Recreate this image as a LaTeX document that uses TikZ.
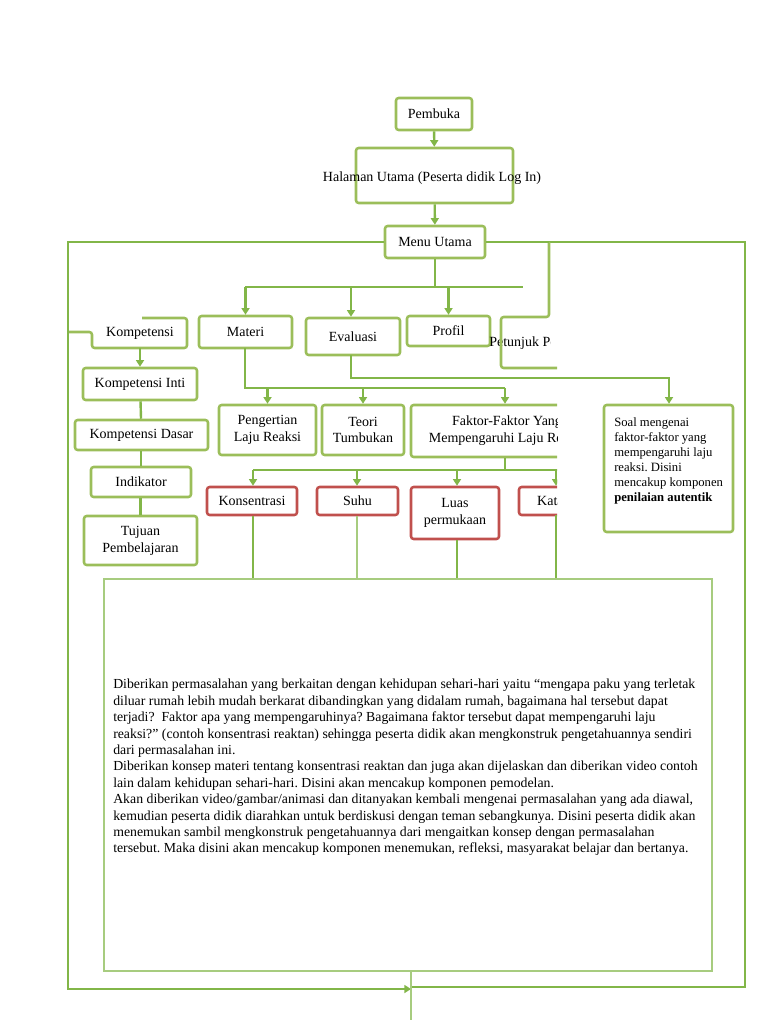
\documentclass[tikz,border=0pt]{standalone}
\usepackage{fontspec}
\setmainfont{Liberation Serif}
\usetikzlibrary{arrows.meta}
\definecolor{boxgreen}{RGB}{155,190,90}
\definecolor{linegreen}{RGB}{130,182,72}
\definecolor{boxred}{RGB}{192,80,77}
\tikzset{
  box/.style={draw=boxgreen, line width=1.9pt, rounded corners=2pt, inner sep=0pt, align=center, font=\fontsize{10.5}{12.6}\selectfont},
  redbox/.style={box, draw=boxred},
  link/.style={draw=linegreen, line width=1.8pt},
  thinlink/.style={draw=linegreen!70, line width=0.8pt},
  tip/.style={-{Triangle[length=5pt,width=6pt]}},
}
\frenchspacing
\begin{document}
\begin{tikzpicture}[x=0.75pt, y=-0.75pt]
  \useasboundingbox (0,0) rectangle (768,1024);

  % top of the chart
  \node[box, minimum width=57pt, minimum height=24pt] (pembuka) at (434,114) {Pembuka};
  \node[box, minimum width=117.75pt, minimum height=41.25pt] (halaman) at (434.5,175.5) {};
  \node[inner sep=0pt, font=\fontsize{10.5}{12.6}\selectfont] (halamantext) at (432,178) {Halaman Utama (Peserta didik Log In)};
  \node[box, minimum width=75pt, minimum height=24pt] (menu) at (435,242) {Menu Utama};
  \draw[link, tip] (pembuka) -- (halaman);
  \draw[link, tip] (halaman) -- (menu);

  % menu items
  \node[box, minimum width=69.75pt, minimum height=24pt] (materi) at (245.5,332) {Materi};
  \node[box, minimum width=70.5pt, minimum height=27.75pt] (evaluasi) at (353,336.5) {Evaluasi};
  \node[box, minimum width=62.25pt, minimum height=22.5pt] (profil) at (448.5,331) {Profil};
  \node[font=\fontsize{10.5}{12.6}\selectfont, minimum width=71.25pt, minimum height=22.5pt] (kompetensi) at (140,333) {Kompetensi};
  \draw[box] (142,318) -- (187,318) -- (187,348) -- (92,348) -- (92,332) -- (68,332);

  \coordinate (mbus) at (435,287);
  \draw[link] (menu) -- (mbus);
  \draw[link] (245,287) -- (523,287);
  \draw[link, tip] (materi.north |- mbus) -- (materi.north);
  \draw[link, tip] (351,287) -- (evaluasi.north -| 351,0);
  \draw[link, tip] (profil.north |- mbus) -- (profil.north);

  % loops round the chart
  \coordinate (bottom) at (411,989);
  \draw[link, tip] (menu.west) -- (68,242) -- (68,989) -- (bottom);
  \draw[link] (549,242) -- (745,242) -- (745,987) -- (411,987);

  % kompetensi column
  \node[box, minimum width=85.5pt, minimum height=24pt] (kinti) at (140,384) {Kompetensi Inti};
  \node[box, minimum width=99.75pt, minimum height=22.5pt] (kdasar) at (141.5,435) {Kompetensi Dasar};
  \node[box, minimum width=75pt, minimum height=22.5pt] (indikator) at (141,482) {Indikator};
  \node[box, minimum width=84.75pt, minimum height=36.75pt] (tujuan) at (140.5,540.5) {Tujuan\\Pembelajaran};
  \draw[link, tip] (kompetensi.south -| kinti.north) -- (kinti.north);
  \draw[link] (kinti) -- (kdasar);
  \draw[link] (kdasar.south -| indikator.north) -- (indikator.north);
  \draw[link] (indikator.south -| tujuan.north) -- (tujuan.north);

  % materi branch
  \node[box, minimum width=72.75pt, minimum height=37.5pt] (pengertian) at (267.5,430) {Pengertian\\Laju Reaksi};
  \node[box, minimum width=61.5pt, minimum height=37.5pt] (teori) at (363,430) {Teori\\Tumbukan};
  \draw[link] (245,348) -- (245,388) -- (505,388);
  \draw[link, tip] (pengertian.north |- 0,388) -- (pengertian.north);
  \draw[link, tip] (teori.north |- 0,388) -- (teori.north);

  % evaluasi branch
  \node[box, minimum width=96.75pt, minimum height=95.25pt] (soal) at (668.5,468.5) {};
  \node[anchor=north west, inner sep=0pt, align=left, font=\fontsize{9.5}{11.25}\selectfont] (soaltext) at (614,417)
    {Soal mengenai\\faktor-faktor yang\\mempengaruhi laju\\reaksi. Disini\\mencakup komponen\\\textbf{penilaian autentik}};
  \draw[link, tip] (351,355) -- (351,378) -- (669,378) -- (soal.north -| 669,0);

  % the part cut off at the right
  \begin{scope}
    \clip (0,0) rectangle (550,1024);
    \node[anchor=west, inner sep=0pt, font=\fontsize{10.5}{12.6}\selectfont] (petunjuk) at (489,343) {Petunjuk Penggunaan};
  \end{scope}
  \begin{scope}
    \clip (0,0) rectangle (557,1024);
    \draw[box] (549,242) -- (549,317) -- (501,317) -- (501,368) -- (560,368);
    \draw[link] (menu.east) -- (549,242);
    \node[box, minimum width=144pt, minimum height=39pt] (faktor) at (507,431) {Faktor-Faktor Yang\\Mempengaruhi Laju Reaksi};
    \draw[link, tip] (505,388) -- (faktor.north -| 505,0);
    \coordinate (fbus) at (505,470);
    \draw[link] (faktor.south -| fbus) -- (fbus);
    \draw[link] (253,470) -- (600,470);
    \node[redbox, minimum width=67.5pt, minimum height=21pt] (konsentrasi) at (252,501) {Konsentrasi};
    \node[redbox, minimum width=60.75pt, minimum height=21pt] (suhu) at (357.5,501) {Suhu};
    \node[redbox, minimum width=66pt, minimum height=39pt] (luas) at (455,513) {Luas\\permukaan};
    \node[redbox, minimum width=57pt, minimum height=21pt] (katalis) at (557,501) {Katalis};
    \foreach \n/\xx in {konsentrasi/253, suhu/357, luas/457, katalis/556}
      \draw[link, tip] (\xx,470) -- (\n.north -| \xx,0);
  \end{scope}

  % text box
  \node[draw=linegreen!70, line width=0.8pt, minimum width=456pt, minimum height=294pt] (uraian) at (408,775) {};
  \node[anchor=north west, inner sep=0pt, align=left, font=\fontsize{10.35}{12.3}\selectfont] (uraiantext) at (113,679)
    {Diberikan permasalahan yang berkaitan dengan kehidupan sehari-hari yaitu “mengapa paku yang terletak\\
     diluar rumah lebih mudah berkarat dibandingkan yang didalam rumah, bagaimana hal tersebut dapat\\
     terjadi?\ \ Faktor apa yang mempengaruhinya? Bagaimana faktor tersebut dapat mempengaruhi laju\\
     reaksi?” (contoh konsentrasi reaktan) sehingga peserta didik akan mengkonstruk pengetahuannya sendiri\\
     dari permasalahan ini.\\
     Diberikan konsep materi tentang konsentrasi reaktan dan juga akan dijelaskan dan diberikan video contoh\\
     lain dalam kehidupan sehari-hari. Disini akan mencakup komponen pemodelan.\\
     Akan diberikan video/gambar/animasi dan ditanyakan kembali mengenai permasalahan yang ada diawal,\\
     kemudian peserta didik diarahkan untuk berdiskusi dengan teman sebangkunya. Disini peserta didik akan\\
     menemukan sambil mengkonstruk pengetahuannya dari mengaitkan konsep dengan permasalahan\\
     tersebut. Maka disini akan mencakup komponen menemukan, refleksi, masyarakat belajar dan bertanya.};
  \draw[link] (konsentrasi.south -| 253,0) -- (uraian.north -| 253,0);
  \draw[thinlink] (suhu.south -| 357,0) -- (uraian.north -| 357,0);
  \draw[link] (luas.south -| 457,0) -- (uraian.north -| 457,0);
  \draw[link] (556,515) -- (uraian.north -| 556,0);
  \draw[thinlink] (uraian.south -| bottom) -- (411,1020);
\end{tikzpicture}
\end{document}
